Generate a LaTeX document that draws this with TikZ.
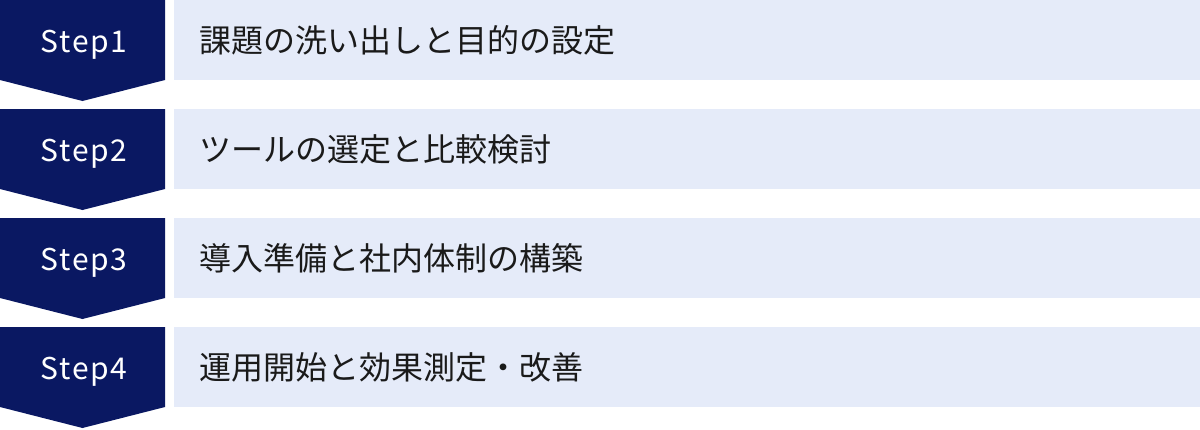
\documentclass[tikz,border=0pt]{standalone}
\usepackage{fontspec}
\setmainfont{Noto Sans CJK JP}
\newfontfamily\stepfont[LetterSpace=6]{Noto Sans CJK JP}
\definecolor{navy}{HTML}{0A1862}
\definecolor{pale}{HTML}{E5EBF9}
\definecolor{ink}{HTML}{1A1A1A}
\tikzset{
  stepshape/.style={fill=navy, draw=none},
  panel/.style={fill=pale, draw=none},
  steplabel/.style={text=white, inner sep=0pt, anchor=base, font=\stepfont\fontsize{30}{30}\selectfont},
  tasklabel/.style={text=ink, inner sep=0pt, anchor=base west, font=\fontsize{32}{32}\selectfont},
}
\begin{document}
\begin{tikzpicture}[x=1pt,y=-1pt]
\useasboundingbox (0,0) rectangle (1200,429);
\foreach \i/\t in {0/課題の洗い出しと目的の設定, 1/ツールの選定と比較検討, 2/導入準備と社内体制の構築, 3/運用開始と効果測定・改善}{
  \pgfmathsetmacro{\yy}{109*\i}
  \pgfmathtruncatemacro{\n}{\i+1}
  \fill[stepshape] (0,\yy) -- (165,\yy) -- (165,\yy+80) -- (82.5,\yy+101) -- (0,\yy+80) -- cycle;
  \fill[panel] (174,\yy) rectangle (1200,\yy+80);
  \node[steplabel] (s\n) at (84,\yy+52) {Step\n};
  \node[tasklabel] (t\n) at (199,\yy+52) {\t};
}
\end{tikzpicture}
\end{document}
